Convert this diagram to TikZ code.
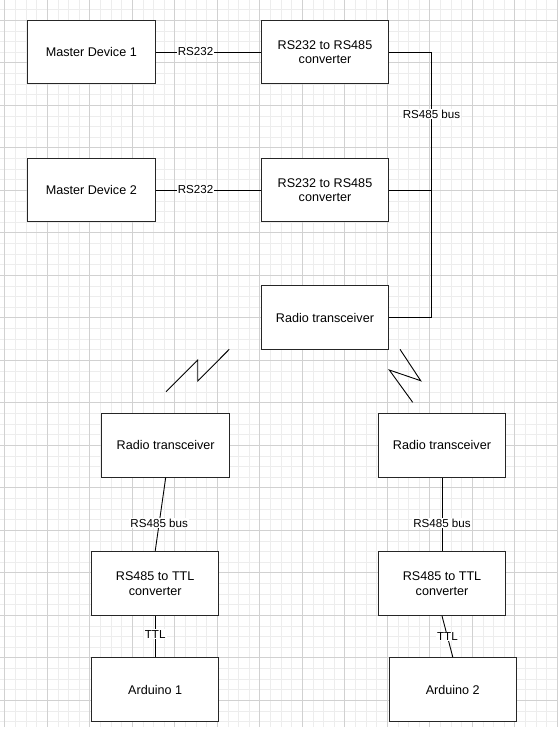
\documentclass[tikz,border=0pt]{standalone}
\usepackage{fontspec}
\setmainfont{Liberation Sans}
\begin{document}
\begin{tikzpicture}[x=1pt,y=-1pt,
  box/.style={draw=black!85, line width=1pt, fill=white, minimum width=127.5pt, minimum height=63.75pt, align=center, inner sep=0pt, font=\fontsize{12.6}{14.5}\selectfont},
  lbl/.style={fill=white, inner sep=1pt, font=\fontsize{11.6}{13}\selectfont},
  wire/.style={line width=0.9pt, black},
  minorgrid/.style={line width=0.8pt, black!7},
  majorgrid/.style={line width=0.8pt, black!18}]
\useasboundingbox (0,0) rectangle (558,729);
\fill[white] (0,0) rectangle (558,729);
\begin{scope}
\clip (0,0) rectangle (558,726);
\foreach \i in {0,...,52} \draw[minorgrid] (4.8+10.625*\i,0) -- (4.8+10.625*\i,729);
\foreach \j in {0,...,68} \draw[minorgrid] (0,9.7+10.625*\j) -- (558,9.7+10.625*\j);
\foreach \i in {0,...,13} \draw[majorgrid] (4.8+42.5*\i,0) -- (4.8+42.5*\i,729);
\foreach \j in {0,...,17} \draw[majorgrid] (0,20.3+42.5*\j) -- (558,20.3+42.5*\j);
\end{scope}

\node[box] (m1) at (91.3,52) {Master Device 1};
\node[box] (c1) at (325,52) {RS232 to RS485\\converter};
\node[box] (m2) at (91.3,190) {Master Device 2};
\node[box] (c2) at (325,190) {RS232 to RS485\\converter};
\node[box] (r0) at (325,317.5) {Radio transceiver};
\node[box] (rl) at (165.7,445.2) {Radio transceiver};
\node[box] (tl) at (155.2,583.5) {RS485 to TTL\\converter};
\node[box] (al) at (155.2,689.5) {Arduino 1};
\node[box] (rr) at (442,445.2) {Radio transceiver};
\node[box] (tr) at (442,583.5) {RS485 to TTL\\converter};
\node[box] (ar) at (452.8,689.5) {Arduino 2};

\coordinate (b1) at (431.5,52);
\coordinate (b2) at (431.5,190);
\coordinate (b3) at (431.5,317.5);

\draw[wire] (m1) -- node[lbl, pos=0.38] {RS232} (c1);
\draw[wire] (m2) -- node[lbl, pos=0.38] {RS232} (c2);
\draw[wire] (c1.east) -- (b1) -- (b3) -- (r0.east);
\draw[wire] (c2.east) -- (b2);
\node[lbl] (busl) at (431.5,114) {RS485 bus};

\draw[wire] (rl.south) -- node[lbl, pos=0.62] {RS485 bus} (tl.north);
\draw[wire] (tl.south) -- node[lbl, pos=0.45] {TTL} (al.north);
\draw[wire] (rr.south) -- node[lbl, pos=0.62] {RS485 bus} (tr.north);
\draw[wire] (tr.south) -- node[lbl, pos=0.5] {TTL} (ar.north);

\draw[wire] (166,391.7) -- (197.7,360) -- (197.7,381) -- (229.3,349.3);
\draw[wire] (400,349.3) -- (420.7,380.7) -- (389.3,370) -- (412.7,402.3);
\end{tikzpicture}
\end{document}
